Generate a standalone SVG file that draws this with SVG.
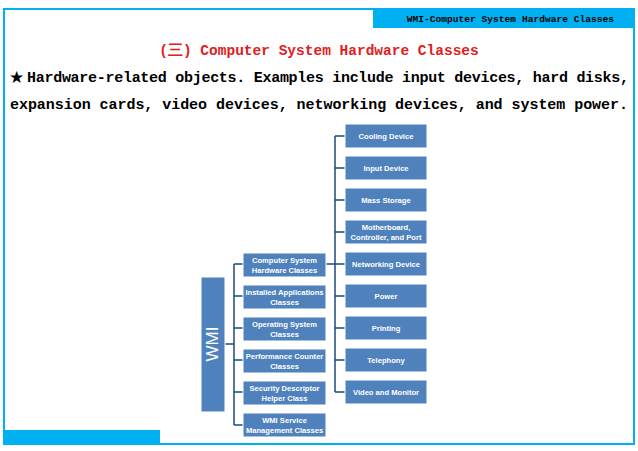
<svg xmlns="http://www.w3.org/2000/svg" width="638" height="451" viewBox="0 0 638 451">
<style>
.m{font-family:"Liberation Mono",monospace;font-weight:bold}
.b rect{fill:#4f81bd;stroke:#fff;stroke-width:1}
.b text{font-family:"Liberation Sans",sans-serif;font-weight:bold;font-size:7.6px;fill:#fff;text-anchor:middle}
.c path{stroke:#1f497d;stroke-width:1.5;fill:none}
</style>
<rect width="638" height="451" fill="#fff"/>
<rect x="4" y="9" width="630" height="435" fill="none" stroke="#00b0f0" stroke-width="2"/>
<rect x="373" y="8" width="262" height="20" fill="#00b0f0"/>
<rect x="3" y="430" width="157" height="15" fill="#00b0f0"/>
<text class="m" x="614" y="22" font-size="9.6" text-anchor="end">WMI-Computer System Hardware Classes</text>
<text class="m" x="319" y="55" font-size="14.5" fill="#e02020" text-anchor="middle">(三) Computer System Hardware Classes</text>
<text x="9" y="83" font-family="DejaVu Sans,sans-serif" font-size="17">★</text>
<text class="m" x="27" y="82" font-size="15" textLength="602">Hardware-related objects. Examples include input devices, hard disks,</text>
<text class="m" x="10" y="109" font-size="15" textLength="618">expansion cards, video devices, networking devices, and system power.</text>
<g class="c">
<path d="M224 344H234M234 264V425M234 264H243M234 296H243M234 328H243M234 360H243M234 392H243M234 425H243"/>
<path d="M326 264H335M335 136V392M335 136H345M335 168H345M335 200H345M335 232H345M335 264H345M335 296H345M335 328H345M335 360H345M335 392H345"/>
</g>
<g class="b" id="wmi"><rect x="201" y="277" width="24" height="135"/><text transform="translate(218,344) rotate(-90)" style="font-weight:normal;font-size:17px">WMI</text></g>
<g class="b" id="m1"><rect x="243" y="253" width="83" height="24"/><text x="284.5" y="262.5">Computer System</text><text x="284.5" y="272.5">Hardware Classes</text></g>
<g class="b" id="m2"><rect x="243" y="285" width="83" height="24"/><text x="284.5" y="294.5">Installed Applications</text><text x="284.5" y="304.5">Classes</text></g>
<g class="b" id="m3"><rect x="243" y="317" width="83" height="24"/><text x="284.5" y="326.5">Operating System</text><text x="284.5" y="336.5">Classes</text></g>
<g class="b" id="m4"><rect x="243" y="349" width="83" height="24"/><text x="284.5" y="358.5">Performance Counter</text><text x="284.5" y="368.5">Classes</text></g>
<g class="b" id="m5"><rect x="243" y="381" width="83" height="24"/><text x="284.5" y="390.5">Security Descriptor</text><text x="284.5" y="400.5">Helper Class</text></g>
<g class="b" id="m6"><rect x="243" y="413" width="83" height="24"/><text x="284.5" y="422.5">WMI Service</text><text x="284.5" y="432.5">Management Classes</text></g>
<g class="b" id="r1"><rect x="345" y="124" width="82" height="24"/><text x="386" y="139">Cooling Device</text></g>
<g class="b" id="r2"><rect x="345" y="156" width="82" height="24"/><text x="386" y="171">Input Device</text></g>
<g class="b" id="r3"><rect x="345" y="188" width="82" height="24"/><text x="386" y="203">Mass Storage</text></g>
<g class="b" id="r4"><rect x="345" y="220" width="82" height="24"/><text x="386" y="229.5">Motherboard,</text><text x="386" y="239.5">Controller, and Port</text></g>
<g class="b" id="r5"><rect x="345" y="252" width="82" height="24"/><text x="386" y="267">Networking Device</text></g>
<g class="b" id="r6"><rect x="345" y="284" width="82" height="24"/><text x="386" y="299">Power</text></g>
<g class="b" id="r7"><rect x="345" y="316" width="82" height="24"/><text x="386" y="331">Printing</text></g>
<g class="b" id="r8"><rect x="345" y="348" width="82" height="24"/><text x="386" y="363">Telephony</text></g>
<g class="b" id="r9"><rect x="345" y="380" width="82" height="24"/><text x="386" y="395">Video and Monitor</text></g>
</svg>
